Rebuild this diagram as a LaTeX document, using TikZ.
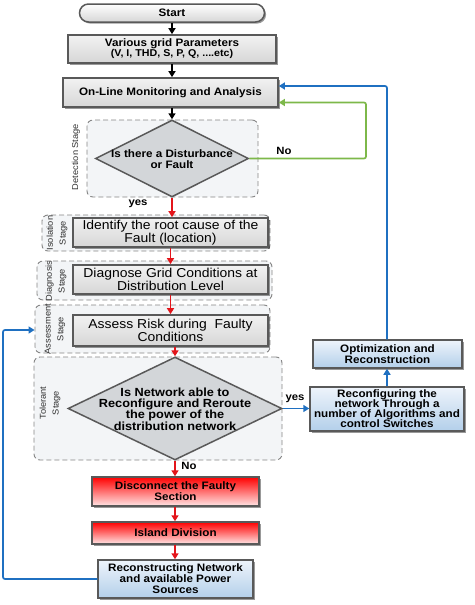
\documentclass[tikz,border=0pt]{standalone}
\usepackage{fontspec}
\setmainfont{Liberation Sans}[FakeStretch=1.08]
\usetikzlibrary{shapes.geometric,shadows,arrows.meta,calc}
\definecolor{grayA}{HTML}{F2F2F2}
\definecolor{grayB}{HTML}{D6D6D6}
\definecolor{borderG}{HTML}{595959}
\definecolor{stagefill}{HTML}{F3F5F7}
\definecolor{stageline}{HTML}{858585}
\definecolor{diafill}{HTML}{D3D6D9}
\definecolor{redA}{HTML}{FF0000}
\definecolor{redB}{HTML}{FFE6E6}
\definecolor{blueA}{HTML}{EEF4FB}
\definecolor{blueB}{HTML}{B3CFEA}
\definecolor{lineblue}{HTML}{1F70C1}
\definecolor{linegreen}{HTML}{7DB84A}
\definecolor{linered}{HTML}{E3151B}
\definecolor{lbltext}{HTML}{303030}
\tikzset{
  boldtxt/.style={font=\bfseries\fontsize{10.8}{11}\selectfont, align=center},
  regtxt/.style={font=\fontsize{12.9}{12}\selectfont, align=center},
  shadowed/.style={drop shadow={shadow xshift=1.6pt, shadow yshift=-1.6pt, opacity=0.4, fill=black}},
  graybox/.style={rectangle, draw=borderG, line width=1.7pt, top color=grayA, bottom color=grayB, shadowed, inner sep=1pt},
  startbox/.style={rectangle, rounded corners=9pt, draw=borderG, line width=1.5pt, top color=white, bottom color=grayB, shadowed, boldtxt},
  redbox/.style={rectangle, draw=borderG, line width=1.5pt, top color=redA, bottom color=redB, shadowed, boldtxt, inner sep=1pt},
  bluebox/.style={rectangle, draw=borderG, line width=1.5pt, top color=blueA, bottom color=blueB, shadowed, boldtxt, inner sep=1pt},
  stagebox/.style={rectangle, rounded corners=6pt, draw=stageline, line width=0.9pt, dash pattern=on 5pt off 3pt, fill=stagefill},
  stagelbl/.style={rotate=90, font=\fontsize{8.6}{12.8}\selectfont, align=center, text=lbltext},
  decision/.style={diamond, draw=borderG, line width=1.5pt, fill=diafill, inner sep=0pt},
  tip/.style={-{Triangle[length=6pt,width=7pt]}},
  blk/.style={tip, line width=1.7pt, draw=black},
  redln/.style={tip, line width=1.7pt, draw=linered},
  bluln/.style={tip, line width=1.7pt, draw=lineblue, rounded corners=2pt},
  grnln/.style={tip, line width=1.7pt, draw=linegreen, rounded corners=2pt},
  lbl/.style={font=\bfseries\fontsize{10.5}{11}\selectfont}
}
\begin{document}
\begin{tikzpicture}[x=1pt,y=-1pt]
\useasboundingbox (0,0) rectangle (474,605);
% stage frames
\node[stagebox, minimum width=171pt, minimum height=77pt] (detbox) at (172.5,158.5) {};
\node[stagebox, minimum width=228pt, minimum height=36pt] (isobox) at (156,233) {};
\node[stagebox, minimum width=235pt, minimum height=39pt] (diagbox) at (154.5,280.5) {};
\node[stagebox, minimum width=235pt, minimum height=48pt] (assbox) at (152.5,329) {};
\node[stagebox, minimum width=248pt, minimum height=103pt] (tolbox) at (158,408.5) {};
\node[stagelbl] (detlbl) at (76,157) {Detection Stage};
\node[stagelbl] (isolbl) at (57,233) {Isolation\\Stage};
\node[stagelbl] (diaglbl) at (56,281) {Diagnosis\\Stage};
\node[stagelbl] (asslbl) at (55,329) {Assessment\\Stage};
\node[stagelbl] (tollbl) at (50,403) {Tolerant\\Stage};
% main boxes
\node[startbox, minimum width=185pt, minimum height=18pt] (start) at (172,13) {Start};
\node[graybox, boldtxt, minimum width=208pt, minimum height=28pt] (params) at (172,49)
  {Various grid Parameters\\[-1pt]{\fontsize{9.9}{10}\selectfont(V, I, THD, S, P, Q, ....etc)}};
\node[graybox, boldtxt, minimum width=215pt, minimum height=29pt] (monitor) at (170.5,92.5) {On-Line Monitoring and Analysis};
\node[decision, minimum width=153pt, minimum height=77pt] (dia1) at (172,158.5) {};
\node[boldtxt] (dia1txt) at (172,159) {Is there a Disturbance\\or Fault};
\node[graybox, regtxt, minimum width=195pt, minimum height=29pt] (iso) at (170.5,232.5) {Identify the root cause of the\\Fault (location)};
\node[graybox, regtxt, minimum width=195pt, minimum height=29pt] (diag) at (170.5,279.5) {Diagnose Grid Conditions at\\Distribution Level};
\node[graybox, regtxt, minimum width=195pt, minimum height=31pt] (ass) at (170.5,330.5) {Assess Risk during~ Faulty\\Conditions};
\node[decision, minimum width=214pt, minimum height=103pt] (dia2) at (175,408.5) {};
\node[font=\bfseries\fontsize{11.8}{11.3}\selectfont, align=center] (dia2txt) at (175,409)
  {Is Network able to\\Reconfigure and Reroute\\the power of the\\distribution network};
\node[bluebox, minimum width=154pt, minimum height=44pt] (recon) at (387,409)
  {Reconfiguring the\\[-1pt]network Through a\\[-1pt]number of Algorithms and\\[-1pt]control Switches};
\node[bluebox, minimum width=149pt, minimum height=28pt] (opt) at (387.5,354) {Optimization and\\Reconstruction};
\node[redbox, minimum width=167pt, minimum height=29pt] (disc) at (175.5,491.5) {Disconnect the Faulty\\Section};
\node[redbox, minimum width=167pt, minimum height=22pt] (island) at (175.5,533) {Island Division};
\node[bluebox, minimum width=155pt, minimum height=38pt] (rebuild) at (175.5,579) {Reconstructing Network\\and available Power\\Sources};
% labels
\node[lbl] (no1) at (284,151) {No};
\node[lbl] (yes1) at (138,204) {yes};
\node[lbl] (yes2) at (295,399) {yes};
\node[lbl] (no2) at (189,466) {No};
% connectors
\draw[blk] (start) -- (params);
\draw[blk] (params.south -| start) -- (monitor.north -| start);
\draw[blk] (monitor.south -| start) -- (dia1.north);
\draw[redln] (dia1.south) -- (dia1.south |- iso.north);
\draw[redln] (iso.south) -- (diag.north);
\draw[redln] (diag.south) -- (ass.north);
\draw[redln] (ass.south -| dia2.north) -- (dia2.north);
\draw[redln] (dia2.south) -- (dia2.south |- disc.north);
\draw[redln] (disc.south -| dia2.south) -- (island.north -| dia2.south);
\draw[redln] (island.south -| dia2.south) -- (rebuild.north -| dia2.south);
\draw[bluln] (dia2.east) -- (recon.west |- dia2.east);
\draw[bluln] (recon.north) -- (recon.north |- opt.south);
\coordinate (gc) at (366,102.5);
\draw[grnln] (dia1.east) -| (gc) -- (gc -| monitor.east);
\coordinate (bc) at (387,86);
\draw[bluln] (opt.north -| bc) -- (bc) -- (bc -| monitor.east);
\coordinate (lc) at (3,330);
\draw[bluln] (rebuild.west) -| (lc) -- (lc -| assbox.west);
\end{tikzpicture}
\end{document}
